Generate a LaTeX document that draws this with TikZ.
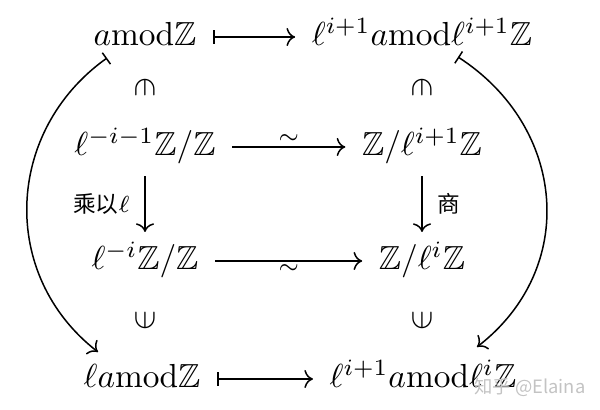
\documentclass[tikz,border=0pt]{standalone}
\usepackage{fontspec}
\usepackage{amssymb}
\usepackage{graphicx}
\newfontfamily\cjk{Noto Sans CJK SC}
\usetikzlibrary{arrows.meta}
\definecolor{wmgray}{RGB}{195,195,195}
\begin{document}
\begin{tikzpicture}[x=0.3pt,y=-0.3pt,
  line width=0.45pt,
  obj/.style={inner xsep=4.8pt, inner ysep=2pt, text height=9pt, text depth=4pt},
  incl/.style={inner sep=0pt},
  mto/.style={arrows={Bar[width=4.2pt]-To}},
  ar/.style={arrows={-To}},
  lab/.style={font=\fontsize{7}{8}\selectfont, inner sep=0.8pt},
  cjklab/.style={font=\fontsize{6.8}{8}\selectfont\cjk}
]
\useasboundingbox (0,0) rectangle (600,410);
% objects
\node[obj] (A) at (145,37)  {$a\mathrm{mod}\mathbb{Z}$};
\node[obj] (B) at (422,37)  {$\ell^{i+1}a\mathrm{mod}\ell^{i+1}\mathbb{Z}$};
\node[obj] (C) at (145,147) {$\ell^{-i-1}\mathbb{Z}/\mathbb{Z}$};
\node[obj] (D) at (422,147) {$\mathbb{Z}/\ell^{i+1}\mathbb{Z}$};
\node[obj] (E) at (145,261) {$\ell^{-i}\mathbb{Z}/\mathbb{Z}$};
\node[obj] (F) at (422,261) {$\mathbb{Z}/\ell^{i}\mathbb{Z}$};
\node[obj] (G) at (142,379) {$\ell a\mathrm{mod}\mathbb{Z}$};
\node[obj] (H) at (423,379) {$\ell^{i+1}a\mathrm{mod}\ell^{i}\mathbb{Z}$};
% membership symbols
\node[incl] (m1) at (145,88)  {\rotatebox{-90}{$\in$}};
\node[incl] (m2) at (422,88)  {\rotatebox{-90}{$\in$}};
\node[incl] (m3) at (145,320) {\rotatebox{90}{$\in$}};
\node[incl] (m4) at (422,320) {\rotatebox{90}{$\in$}};
% horizontal maps
\draw[mto] (A) -- (B);
\draw[ar] (C) -- node[lab, above] (s1) {$\sim$} (D);
\draw[ar] (E) -- node[lab, below] (s2) {$\sim$} (F);
\draw[mto] (G) -- (H);
% vertical maps
\draw[ar] (C) -- node[cjklab, left=1pt] (l1) {乘以$\ell$} (E);
\draw[ar] (D) -- node[cjklab, right=1pt] (l2) {商} (F);
% curved maps
\coordinate (p1) at (107,58);
\coordinate (q1) at (98,352);
\coordinate (p2) at (458,57);
\coordinate (q2) at (477,347);
\draw[mto] (p1) .. controls (5,131) and (-1,275) .. (q1);
\draw[mto] (p2) .. controls (566,127) and (579,268) .. (q2);
% watermark
\node[text=wmgray, font=\fontsize{5.5}{6}\selectfont\cjk, inner sep=0pt] (wm) at (530,387) {知乎 @Elaina};
\end{tikzpicture}
\end{document}
